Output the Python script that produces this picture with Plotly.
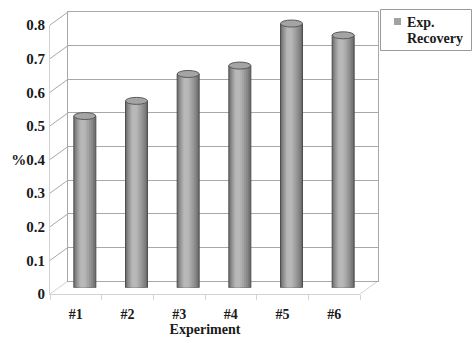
import plotly.graph_objects as go

# Experiment data
experiments = ["#1", "#2", "#3", "#4", "#5", "#6"]
recovery = [0.51, 0.555, 0.635, 0.66, 0.785, 0.75]
y_ticks = [0, 0.1, 0.2, 0.3, 0.4, 0.5, 0.6, 0.7, 0.8]
y_ticktext = ["0", "0.1", "0.2", "0.3", "%0.4", "0.5", "0.6", "0.7", "0.8"]
legend_lines = ["Exp.", "Recovery"]

W, H = 474, 345
ML, MR, MT, MB = 50, 96, 12, 51
PW, PH = W - ML - MR, H - MT - MB
DX, DY = 18, 13  # depth offset of the back wall, px
YMAX = 0.8


def px(x):
    return (x - ML) / PW


def py(y):
    return (PH + MT - y) / PH


front_x = [0, (PW - DX) / PW]
front_y = [0, (PH - DY) / PH]
back_x = [DX / PW, 1]
back_y = [DY / PH, 1]
mid_x = [DX / 2 / PW, (PW - DX / 2) / PW]
mid_y = [DY / 2 / PH, (PH - DY / 2) / PH]

serif = "Liberation Serif"
txt = "#1a1a1a"
wall = "#a8a8a8"
floor_c = "#d2d2d2"
font = dict(family=serif, size=14, color=txt, weight="bold")
yfont = dict(family=serif, size=15, color=txt, weight="bold")

n = len(experiments)
xs = list(range(n))
bar_w = 0.426

fig = go.Figure()

# invisible anchors so the front and back axes get drawn
fig.add_trace(go.Scatter(x=[0], y=[0], mode="markers", marker=dict(opacity=0),
                         xaxis="x", yaxis="y", showlegend=False, hoverinfo="skip"))
fig.add_trace(go.Scatter(x=[0], y=[0], mode="markers", marker=dict(opacity=0),
                         xaxis="x2", yaxis="y2", showlegend=False, hoverinfo="skip"))

# cylinder body: stacked overlaid bars of decreasing width to fake shading
layers = [
    (1.00, "#6a6a6a"),
    (0.90, "#7a7a7a"),
    (0.78, "#898989"),
    (0.64, "#979797"),
    (0.50, "#a4a4a4"),
    (0.36, "#afafaf"),
    (0.22, "#b8b8b8"),
]
for k, (f, col) in enumerate(layers):
    w = bar_w * f
    shift = (1 - f) * bar_w * 0.12
    fig.add_trace(go.Bar(
        x=xs, y=recovery, width=w, offset=-w / 2 - shift, name="Exp. Recovery",
        marker=dict(color=col, line=dict(color="#4f4f4f" if k == 0 else col, width=1 if k == 0 else 0)),
        xaxis="x3", yaxis="y3", showlegend=False,
        hoverinfo="x+y" if k == 0 else "skip",
    ))

shapes = []
# cylinder caps (top) and rounded bottoms
e = 3.5 * YMAX / ((mid_y[1] - mid_y[0]) * PH)
for x, v in zip(xs, recovery):
    shapes.append(dict(type="circle", xref="x3", yref="y3",
                       x0=x - bar_w / 2, x1=x + bar_w / 2, y0=-e, y1=e,
                       fillcolor="#7a7a7a", line=dict(color="#4f4f4f", width=1), layer="between"))
    shapes.append(dict(type="circle", xref="x3", yref="y3",
                       x0=x - bar_w / 2, x1=x + bar_w / 2, y0=v - e, y1=v + e,
                       fillcolor="#a4a4a4", line=dict(color="#5a5a5a", width=1), layer="above"))

# side wall lines joining front axis ticks to back wall gridlines
for t in y_ticks:
    yf = front_y[0] + t / YMAX * (front_y[1] - front_y[0])
    yb = back_y[0] + t / YMAX * (back_y[1] - back_y[0])
    shapes.append(dict(type="line", xref="paper", yref="paper",
                       x0=front_x[0], y0=yf, x1=back_x[0], y1=yb,
                       line=dict(color=wall if t > 0 else floor_c, width=1), layer="below"))
# floor right edge
shapes.append(dict(type="line", xref="paper", yref="paper",
                   x0=front_x[1], y0=front_y[0], x1=back_x[1], y1=back_y[0],
                   line=dict(color=floor_c, width=1), layer="below"))

# legend box with swatch
shapes.append(dict(type="rect", xref="paper", yref="paper",
                   x0=px(380.5), x1=px(471.5), y0=py(50.5), y1=py(9.5),
                   fillcolor="white", line=dict(color="#9a9a9a", width=1), layer="above"))
shapes.append(dict(type="rect", xref="paper", yref="paper",
                   x0=px(394), x1=px(401), y0=py(25), y1=py(18),
                   fillcolor="#a2a2a2", line=dict(width=0), layer="above"))

annotations = [
    dict(text=legend_lines[0], xref="paper", yref="paper", x=px(405), y=py(22),
         xanchor="left", yanchor="middle", showarrow=False, font=font),
    dict(text=legend_lines[1], xref="paper", yref="paper", x=px(405), y=py(38),
         xanchor="left", yanchor="middle", showarrow=False, font=font),
]

fig.update_layout(
    width=W, height=H,
    margin=dict(l=ML, r=MR, t=MT, b=MB, autoexpand=False),
    paper_bgcolor="white", plot_bgcolor="rgba(0,0,0,0)",
    barmode="overlay", showlegend=False,
    shapes=shapes, annotations=annotations,
    # front axes: labels
    xaxis=dict(domain=front_x, anchor="y", range=[-0.5, n - 0.5],
               tickvals=xs, ticktext=experiments, ticks="", showgrid=False, zeroline=False,
               showline=True, linecolor=floor_c, linewidth=1, ticklabelstandoff=7,
               tickfont=font,
               minor=dict(tickvals=[i - 0.5 for i in range(n + 1)], ticks="outside",
                          ticklen=5, tickcolor=floor_c, showgrid=False),
               title=dict(text="Experiment", standoff=1, font=font)),
    yaxis=dict(domain=front_y, anchor="x", range=[0, YMAX],
               tickvals=y_ticks, ticktext=y_ticktext, ticks="", showgrid=False, zeroline=False,
               showline=True, linecolor=floor_c, linewidth=1, ticklabelstandoff=1,
               tickfont=yfont),
    # back wall
    xaxis2=dict(domain=back_x, anchor="y2", range=[0, 1], showticklabels=False, ticks="",
                showgrid=False, zeroline=False, showline=True, mirror=True,
                linecolor=wall, linewidth=1),
    yaxis2=dict(domain=back_y, anchor="x2", range=[0, YMAX], dtick=0.1, showticklabels=False,
                ticks="", showgrid=True, gridcolor=wall, gridwidth=1, zeroline=False,
                showline=True, mirror=True, linecolor=wall, linewidth=1),
    # mid-depth plane where the cylinders stand
    xaxis3=dict(domain=mid_x, anchor="y3", range=[-0.5, n - 0.5], visible=False),
    yaxis3=dict(domain=mid_y, anchor="x3", range=[0, YMAX], visible=False),
)

fig.write_html("out.html")
